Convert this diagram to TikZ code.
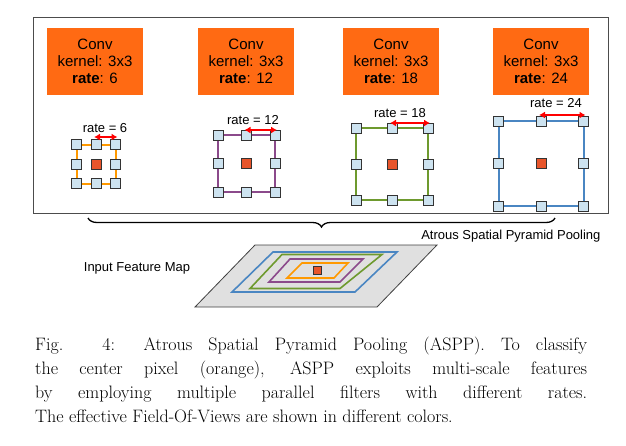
\documentclass[tikz,border=0pt]{standalone}
\usepackage{fontspec}
\newfontfamily\sans{Liberation Sans}
\usetikzlibrary{decorations.pathreplacing,arrows.meta}
\definecolor{convor}{HTML}{FF6A13}
\definecolor{cor}{HTML}{FF9900}
\definecolor{cpu}{HTML}{8B4A8B}
\definecolor{cgr}{HTML}{6E9A2E}
\definecolor{cbl}{HTML}{4A86C2}
\definecolor{cell}{HTML}{CDE3F0}
\definecolor{ctr}{HTML}{E8552B}
\begin{document}
\begin{tikzpicture}[x=1pt,y=-1pt,
 conv/.style={fill=convor,minimum width=96pt,minimum height=67pt,align=center,font=\sans\fontsize{15}{17}\selectfont,inner sep=0},
 cellb/.style={draw=black!80,fill=cell,minimum size=10pt,inner sep=0,line width=0.8pt},
 ctrb/.style={draw=black!80,fill=ctr,minimum size=10pt,inner sep=0,line width=0.8pt},
 rl/.style={font=\sans\fontsize{13}{15}\selectfont},
 ra/.style={draw=red,line width=1.6pt,<->,>={Latex[length=6pt,width=7pt]}},
 ring/.style={line width=1.6pt}]
\useasboundingbox (0,0) rectangle (626,445);
\node[draw=black!70,line width=0.8pt,minimum width=575pt,minimum height=196pt,inner sep=0] (outer) at (320.5,115) {};
\node[conv] (c1) at (95,61.5) {Conv\\kernel: 3x3\\\textbf{rate}: 6};
\node[conv] (c2) at (246,61.5) {Conv\\kernel: 3x3\\\textbf{rate}: 12};
\node[conv] (c3) at (391,61.5) {Conv\\kernel: 3x3\\\textbf{rate}: 18};
\node[conv] (c4) at (541,61.5) {Conv\\kernel: 3x3\\\textbf{rate}: 24};
% grids
\foreach \cx/\cy/\h/\col/\n/\lx/\ly/\ay in {96/164/19.5/cor/6/105/128/137, 246.5/163.5/28.5/cpu/12/253/120/130, 392/164/36/cgr/18/400/113/123, 541/163.5/42.5/cbl/24/556/103/115}{
  \draw[\col,line width=2pt] (\cx-\h,\cy-\h) rectangle (\cx+\h,\cy+\h);
  \foreach \i in {-1,0,1}{\foreach \j in {-1,0,1}{
    \ifnum\i=0 \ifnum\j=0 \else \node[cellb] (g\n\i\j) at (\cx+\i*\h,\cy+\j*\h) {};\fi
    \else \node[cellb] (g\n\i\j) at (\cx+\i*\h,\cy+\j*\h) {};\fi}}
  \node[ctrb] (ctr\n) at (\cx,\cy) {};
  \node[rl] (rl\n) at (\lx,\ly) {rate = \n};
  \coordinate (a\n) at (\cx-2,\ay); \coordinate (b\n) at (\cx+\h+2,\ay);
  \draw[ra] (a\n) -- (b\n);
}
\coordinate (br1) at (88,218); \coordinate (br2) at (555,218);
\draw[line width=1.3pt,decorate,decoration={brace,mirror,amplitude=9pt}] (br1) -- (br2);
\node[rl,anchor=east] (aspp) at (604,236) {Atrous Spatial Pyramid Pooling};
\node[rl] (ifm) at (137,268) {Input Feature Map};
\draw[fill=black!12,draw=black!75,line width=0.8pt] (255,245) -- (437,245) -- (377,307) -- (195,307) -- cycle;
\draw[ring,cbl] (273,252) -- (397,252) -- (355,292) -- (232,292) -- cycle;
\draw[ring,cgr] (282,254.5) -- (382,254.5) -- (340,288.5) -- (250,288.5) -- cycle;
\draw[ring,cpu] (290,259) -- (363,259) -- (340,282) -- (269,282) -- cycle;
\draw[ring,cor] (302,263) -- (348,263) -- (334,278) -- (287,278) -- cycle;
\node[ctrb,minimum size=8pt] (fc) at (317,270) {};
\node[anchor=north west,text width=552pt,align=justify,inner sep=0,font=\fontsize{18}{24}\selectfont] (cap) at (35,337) {\hyphenpenalty=10000 Fig. 4: Atrous Spatial Pyramid Pooling (ASPP). To classify\linebreak the center pixel (orange), ASPP exploits multi-scale features\linebreak by employing multiple parallel filters with different rates.\linebreak The effective Field-Of-Views are shown in different colors.};
\end{tikzpicture}
\end{document}
